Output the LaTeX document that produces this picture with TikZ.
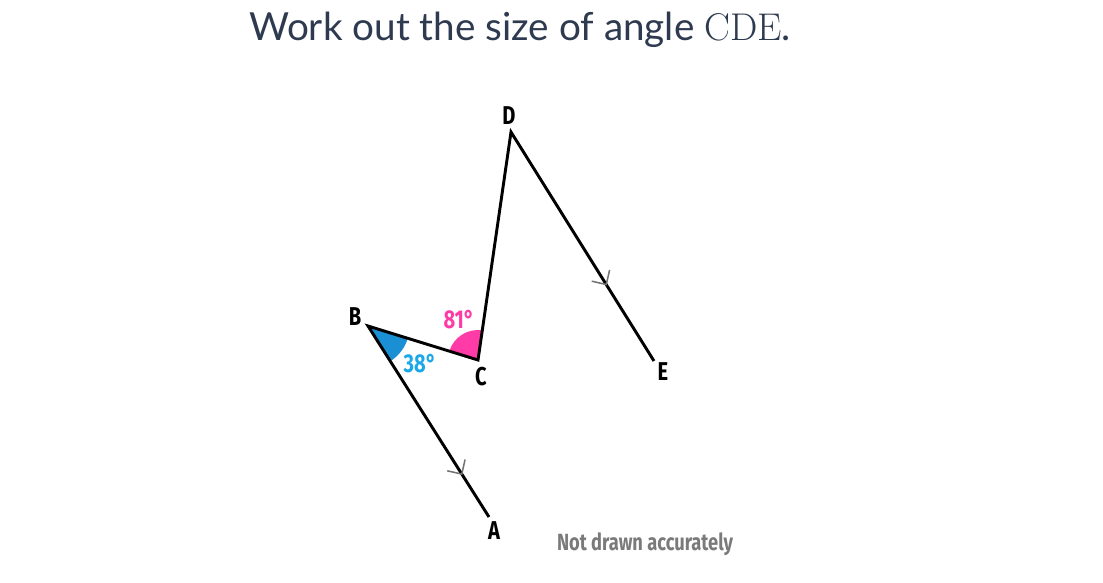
\documentclass[tikz,border=0pt]{standalone}
\usepackage{fontspec}
\setmainfont{Lato}
\newfontfamily\labelfont[FakeStretch=0.78]{Fira Sans}
\newfontfamily\lmroman{Latin Modern Roman}
\usetikzlibrary{angles,decorations.markings,arrows.meta}
\definecolor{titleink}{HTML}{2E3A4F}
\definecolor{angblue}{HTML}{1A8FD3}
\definecolor{txtblue}{HTML}{1BA8E8}
\definecolor{angpink}{HTML}{FF3BA7}
\definecolor{notegray}{HTML}{7A7A7A}
\tikzset{
  seg/.style={line width=2.5pt, black, line join=miter},
  ptlabel/.style={font=\labelfont\bfseries\fontsize{22}{22}\selectfont, inner sep=0pt},
  parmark/.style={postaction=decorate, decoration={markings,
      mark=at position #1 with {\arrow[gray!90!black]{Straight Barb[length=9pt,width=18pt,line width=1.3pt]}}}}
}
\begin{document}
\begin{tikzpicture}[x=0.03cm,y=0.03cm]
        \fill[white] (0,0) rectangle (1103,-582);
        \useasboundingbox (0,0) rectangle (1103,-582);

            \node[font=\fontsize{33}{33}\selectfont, text=titleink] (title) at (520,-30) {Work out the size of angle {\lmroman CDE}.};

            \coordinate (A) at (489,-517);
            \coordinate (B) at (368,-326);
            \coordinate (C) at (478,-360);
            \coordinate (D) at (511,-132);
            \coordinate (E) at (654,-361);

            % angle sectors under the lines
            \pic[fill=angblue, angle radius=1.25cm] {angle=A--B--C};
            \pic[fill=angpink, angle radius=0.9cm] {angle=D--C--B};

            \draw[seg] (A)--(B)--(C)--(D)--(E);
            \path[parmark=0.67] (D)--(E);
            \path[parmark=0.78] (B)--(A);

            \node[ptlabel] (labA) at (494,-531) {A};
            \node[ptlabel] (labB) at (355,-317) {B};
            \node[ptlabel] (labC) at (481,-377) {C};
            \node[ptlabel] (labD) at (509,-116) {D};
            \node[ptlabel] (labE) at (663,-372) {E};

            \node[ptlabel, text=txtblue] (angB) at (420,-364) {38°};
            \node[ptlabel, text=angpink] (angC) at (459,-320) {81°};

            \node[font=\labelfont\bfseries\fontsize{20}{20}\selectfont, text=notegray] (note) at (645,-544) {Not drawn accurately};
        \end{tikzpicture}
\end{document}
